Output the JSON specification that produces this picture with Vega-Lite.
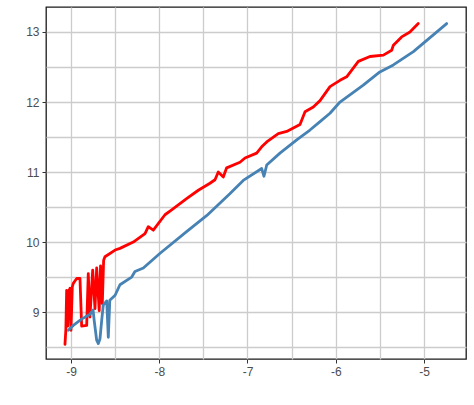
{
  "$schema": "https://vega.github.io/schema/vega-lite/v6.json",
  "width": 420,
  "height": 352,
  "autosize": "none",
  "padding": {"left": 46, "top": 7, "right": 8, "bottom": 46},
  "background": "white",
  "config": {
    "view": {"stroke": "#1a1a1a", "strokeWidth": 1.3},
    "axis": {
      "grid": true,
      "gridColor": "#cccccc",
      "gridWidth": 1.3,
      "domain": false,
      "tickColor": "#333333",
      "tickSize": 4,
      "tickWidth": 1,
      "labelFont": "Liberation Sans",
      "labelFontSize": 12,
      "labelColor": "#4d4d4d",
      "labelPadding": 3,
      "title": null
    }
  },
  "data": {"values": [
    {"s": "a", "i": 1, "x": -9.068, "y": 8.54},
    {"s": "a", "i": 2, "x": -9.058, "y": 8.75},
    {"s": "a", "i": 3, "x": -9.049, "y": 9.31},
    {"s": "a", "i": 4, "x": -9.037, "y": 8.8},
    {"s": "a", "i": 5, "x": -9.025, "y": 9.3},
    {"s": "a", "i": 6, "x": -9.011, "y": 9.34},
    {"s": "a", "i": 7, "x": -9.0, "y": 8.74},
    {"s": "a", "i": 8, "x": -8.985, "y": 9.36},
    {"s": "a", "i": 9, "x": -8.974, "y": 9.41},
    {"s": "a", "i": 10, "x": -8.935, "y": 9.48},
    {"s": "a", "i": 11, "x": -8.898, "y": 9.48},
    {"s": "a", "i": 12, "x": -8.879, "y": 8.8},
    {"s": "a", "i": 13, "x": -8.822, "y": 8.81},
    {"s": "a", "i": 14, "x": -8.804, "y": 9.55},
    {"s": "a", "i": 15, "x": -8.785, "y": 8.93},
    {"s": "a", "i": 16, "x": -8.754, "y": 9.6},
    {"s": "a", "i": 17, "x": -8.728, "y": 9.05},
    {"s": "a", "i": 18, "x": -8.709, "y": 9.63},
    {"s": "a", "i": 19, "x": -8.68, "y": 9.02},
    {"s": "a", "i": 20, "x": -8.665, "y": 9.66},
    {"s": "a", "i": 21, "x": -8.645, "y": 9.12},
    {"s": "a", "i": 22, "x": -8.63, "y": 9.74},
    {"s": "a", "i": 23, "x": -8.615, "y": 9.79},
    {"s": "a", "i": 24, "x": -8.5, "y": 9.886},
    {"s": "a", "i": 25, "x": -8.445, "y": 9.91},
    {"s": "a", "i": 26, "x": -8.294, "y": 10.0},
    {"s": "a", "i": 27, "x": -8.161, "y": 10.12},
    {"s": "a", "i": 28, "x": -8.124, "y": 10.22},
    {"s": "a", "i": 29, "x": -8.067, "y": 10.17},
    {"s": "a", "i": 30, "x": -7.935, "y": 10.39},
    {"s": "a", "i": 31, "x": -7.859, "y": 10.46},
    {"s": "a", "i": 32, "x": -7.69, "y": 10.62},
    {"s": "a", "i": 33, "x": -7.557, "y": 10.74},
    {"s": "a", "i": 34, "x": -7.425, "y": 10.84},
    {"s": "a", "i": 35, "x": -7.368, "y": 10.89},
    {"s": "a", "i": 36, "x": -7.331, "y": 11.0},
    {"s": "a", "i": 37, "x": -7.274, "y": 10.93},
    {"s": "a", "i": 38, "x": -7.236, "y": 11.06},
    {"s": "a", "i": 39, "x": -7.085, "y": 11.14},
    {"s": "a", "i": 40, "x": -7.028, "y": 11.2},
    {"s": "a", "i": 41, "x": -6.896, "y": 11.27},
    {"s": "a", "i": 42, "x": -6.839, "y": 11.36},
    {"s": "a", "i": 43, "x": -6.782, "y": 11.43},
    {"s": "a", "i": 44, "x": -6.651, "y": 11.55},
    {"s": "a", "i": 45, "x": -6.556, "y": 11.58},
    {"s": "a", "i": 46, "x": -6.405, "y": 11.68},
    {"s": "a", "i": 47, "x": -6.348, "y": 11.86},
    {"s": "a", "i": 48, "x": -6.254, "y": 11.93},
    {"s": "a", "i": 49, "x": -6.178, "y": 12.02},
    {"s": "a", "i": 50, "x": -6.065, "y": 12.22},
    {"s": "a", "i": 51, "x": -5.952, "y": 12.31},
    {"s": "a", "i": 52, "x": -5.876, "y": 12.36},
    {"s": "a", "i": 53, "x": -5.744, "y": 12.58},
    {"s": "a", "i": 54, "x": -5.612, "y": 12.65},
    {"s": "a", "i": 55, "x": -5.46, "y": 12.67},
    {"s": "a", "i": 56, "x": -5.366, "y": 12.74},
    {"s": "a", "i": 57, "x": -5.347, "y": 12.81},
    {"s": "a", "i": 58, "x": -5.253, "y": 12.93},
    {"s": "a", "i": 59, "x": -5.159, "y": 13.0},
    {"s": "a", "i": 60, "x": -5.065, "y": 13.12},
    {"s": "b", "i": 1, "x": -9.03, "y": 8.74},
    {"s": "b", "i": 2, "x": -8.974, "y": 8.81},
    {"s": "b", "i": 3, "x": -8.88, "y": 8.9},
    {"s": "b", "i": 4, "x": -8.785, "y": 8.97},
    {"s": "b", "i": 5, "x": -8.75, "y": 9.03},
    {"s": "b", "i": 6, "x": -8.735, "y": 8.86},
    {"s": "b", "i": 7, "x": -8.709, "y": 8.6},
    {"s": "b", "i": 8, "x": -8.69, "y": 8.55},
    {"s": "b", "i": 9, "x": -8.671, "y": 8.62},
    {"s": "b", "i": 10, "x": -8.652, "y": 8.88},
    {"s": "b", "i": 11, "x": -8.634, "y": 9.1},
    {"s": "b", "i": 12, "x": -8.595, "y": 9.16},
    {"s": "b", "i": 13, "x": -8.577, "y": 8.64},
    {"s": "b", "i": 14, "x": -8.56, "y": 9.17},
    {"s": "b", "i": 15, "x": -8.5, "y": 9.24},
    {"s": "b", "i": 16, "x": -8.445, "y": 9.39},
    {"s": "b", "i": 17, "x": -8.312, "y": 9.5},
    {"s": "b", "i": 18, "x": -8.275, "y": 9.58},
    {"s": "b", "i": 19, "x": -8.18, "y": 9.63},
    {"s": "b", "i": 20, "x": -7.99, "y": 9.84},
    {"s": "b", "i": 21, "x": -7.69, "y": 10.15},
    {"s": "b", "i": 22, "x": -7.46, "y": 10.38},
    {"s": "b", "i": 23, "x": -7.2, "y": 10.69},
    {"s": "b", "i": 24, "x": -7.048, "y": 10.88},
    {"s": "b", "i": 25, "x": -6.839, "y": 11.05},
    {"s": "b", "i": 26, "x": -6.813, "y": 10.94},
    {"s": "b", "i": 27, "x": -6.782, "y": 11.1},
    {"s": "b", "i": 28, "x": -6.632, "y": 11.27},
    {"s": "b", "i": 29, "x": -6.442, "y": 11.46},
    {"s": "b", "i": 30, "x": -6.292, "y": 11.6},
    {"s": "b", "i": 31, "x": -6.178, "y": 11.72},
    {"s": "b", "i": 32, "x": -6.065, "y": 11.84},
    {"s": "b", "i": 33, "x": -5.952, "y": 12.0},
    {"s": "b", "i": 34, "x": -5.688, "y": 12.24},
    {"s": "b", "i": 35, "x": -5.5, "y": 12.43},
    {"s": "b", "i": 36, "x": -5.347, "y": 12.53},
    {"s": "b", "i": 37, "x": -5.12, "y": 12.72},
    {"s": "b", "i": 38, "x": -4.743, "y": 13.12}
  ]},
  "mark": {"type": "line", "strokeWidth": 2.8, "strokeJoin": "round", "strokeCap": "round"},
  "encoding": {
    "x": {
      "field": "x", "type": "quantitative",
      "scale": {"domain": [-9.283, -4.524], "nice": false, "zero": false},
      "axis": {
        "values": [-9, -8.5, -8, -7.5, -7, -6.5, -6, -5.5, -5],
        "labelExpr": "datum.value % 1 === 0 ? '' + datum.value : ''",
        "tickOpacity": {"condition": {"test": "datum.value % 1 !== 0", "value": 0}, "value": 1}
      }
    },
    "y": {
      "field": "y", "type": "quantitative",
      "scale": {"domain": [8.33, 13.357], "nice": false, "zero": false},
      "axis": {
        "values": [8.5, 9, 9.5, 10, 10.5, 11, 11.5, 12, 12.5, 13],
        "labelExpr": "datum.value % 1 === 0 ? '' + datum.value : ''",
        "tickOpacity": {"condition": {"test": "datum.value % 1 !== 0", "value": 0}, "value": 1}
      }
    },
    "color": {
      "field": "s", "type": "nominal",
      "scale": {"domain": ["a", "b"], "range": ["#ff0000", "#4682b4"]},
      "legend": null
    },
    "order": {"field": "i", "type": "quantitative"}
  }
}
